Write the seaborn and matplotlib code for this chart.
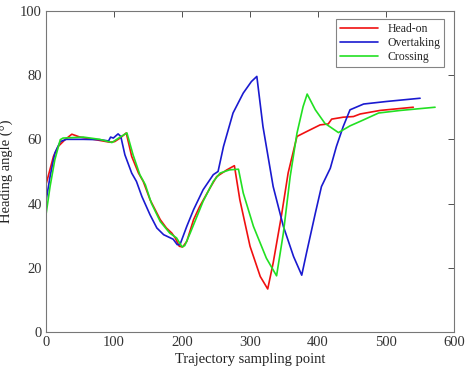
# import modules
import pandas as pd
import seaborn as sb
import matplotlib.pyplot as plt

# data
headon_x = [0, 11, 18, 28, 38, 50, 70, 94, 101, 109, 118, 126, 136, 143, 153, 168, 177, 185, 190, 196, 201,
            207, 217, 226, 241, 251, 266, 277, 285, 300, 315, 326, 334, 346, 356, 366, 369, 383, 403, 415,
            420, 437, 452, 462, 491, 540]
headon_y = [45.9, 54.7, 57.8, 59.9, 61.6, 60.7, 60.0, 59.1, 59.3, 60.4, 62.0, 54.7, 49.5, 46.9, 41.2, 35.0,
            32.4, 30.8, 29.3, 26.7, 26.5, 28.2, 35.0, 39.1, 44.8, 48.4, 50.5, 51.8, 41.2, 26.7, 17.3, 13.4,
            21.5, 36.0, 49.5, 58.3, 60.9, 62.4, 64.5, 64.8, 66.3, 66.9, 67.1, 67.9, 69.0, 70.0]

overtaking_x = [0, 6, 13, 21, 30, 55, 79, 92, 95, 99, 106, 110, 116, 126, 133, 141, 153, 163, 173, 187, 193,
                197, 207, 217, 231, 246, 253, 261, 275, 290, 302, 310, 319, 334, 349, 364, 376, 383, 396,
                405, 418, 427, 437, 447, 467, 501, 550]
overtaking_y = [40.7, 48.4, 55.7, 59.3, 60.0, 60.0, 59.9, 59.5, 60.7, 60.4, 61.7, 60.9, 55.2, 49.5, 46.9,
                42.2, 36.5, 32.4, 30.3, 28.9, 27.2, 27.2, 32.9, 38.1, 44.3, 49.0, 50.0, 57.8, 68.2, 74.4,
                78.0, 79.6, 64.0, 45.3, 32.9, 23.5, 17.7, 24.6, 37.0, 45.3, 51.0, 57.8, 64.0, 69.2, 71.0,
                71.8, 72.8]

crossing_x = [0, 6, 13, 21, 25, 55, 79, 97, 104, 109, 119, 128, 138, 146, 155, 168, 182, 192, 200, 204, 212,
              222, 231, 246, 256, 270, 283, 290, 305, 324, 339, 349, 359, 369, 378, 384, 396, 410, 430, 447,
              462, 489, 521, 572]
crossing_y = [36.5, 45.3, 53.6, 59.9, 60.4, 60.7, 60.0, 59.0, 60.0, 60.7, 62.0, 55.2, 49.0, 45.9, 40.1,
              34.4, 30.8, 29.3, 26.5, 26.9, 30.8, 36.0, 40.7, 46.9, 49.5, 50.5, 50.7, 43.3, 32.9, 23.0,
              17.5, 30.8, 48.4, 61.9, 70.2, 74.1, 69.2, 65.0, 62.1, 64.2, 65.6, 68.2, 69.0, 70.0]

labels = ["Head-on", "Overtaking", "Crossing"]
colors = ["#f01010", "#1a1ad0", "#22e022"]

# build long table
frames = []
for lab, xs, ys in zip(labels, [headon_x, overtaking_x, crossing_x], [headon_y, overtaking_y, crossing_y]):
    frames.append(pd.DataFrame({"x": xs, "y": ys, "case": lab}))
df = pd.concat(frames, ignore_index=True)

# style
sb.set_style("white")
plt.rcParams['font.family'] = ['Liberation Serif', 'DejaVu Serif']
fig = plt.figure(figsize=(4.74, 3.76), dpi=100)
ax = fig.add_axes([0.097, 0.117, 0.861, 0.854])

sb.lineplot(data=df, x="x", y="y", hue="case", palette=colors, sort=False, estimator=None,
            linewidth=1.2, ax=ax)

ax.set_xlim(0, 600)
ax.set_ylim(0, 100)
ax.set_xticks(range(0, 601, 100))
ax.set_yticks(range(0, 101, 20))
ax.tick_params(direction="in", length=4, top=True, right=True, labelsize=10.5, colors="#333333",
               width=0.6, pad=3)
for b in ['top', 'bottom', 'left', 'right']:
    ax.spines[b].set_linewidth(0.8)
    ax.spines[b].set_color("#777777")
ax.set_xlabel("Trajectory sampling point", fontsize=10.5, color="#222222", labelpad=3)
ax.set_ylabel("Heading angle (°)", fontsize=10.5, color="#222222", labelpad=5)

leg = ax.legend(loc="upper right", bbox_to_anchor=(0.985, 0.985), fontsize=8.5, frameon=True,
                fancybox=False, edgecolor="#666666", handlelength=3.2, borderpad=0.35,
                labelspacing=0.15, handletextpad=0.8, borderaxespad=0.3)
leg.get_frame().set_linewidth(0.8)

plt.savefig("out.png", dpi=100)
